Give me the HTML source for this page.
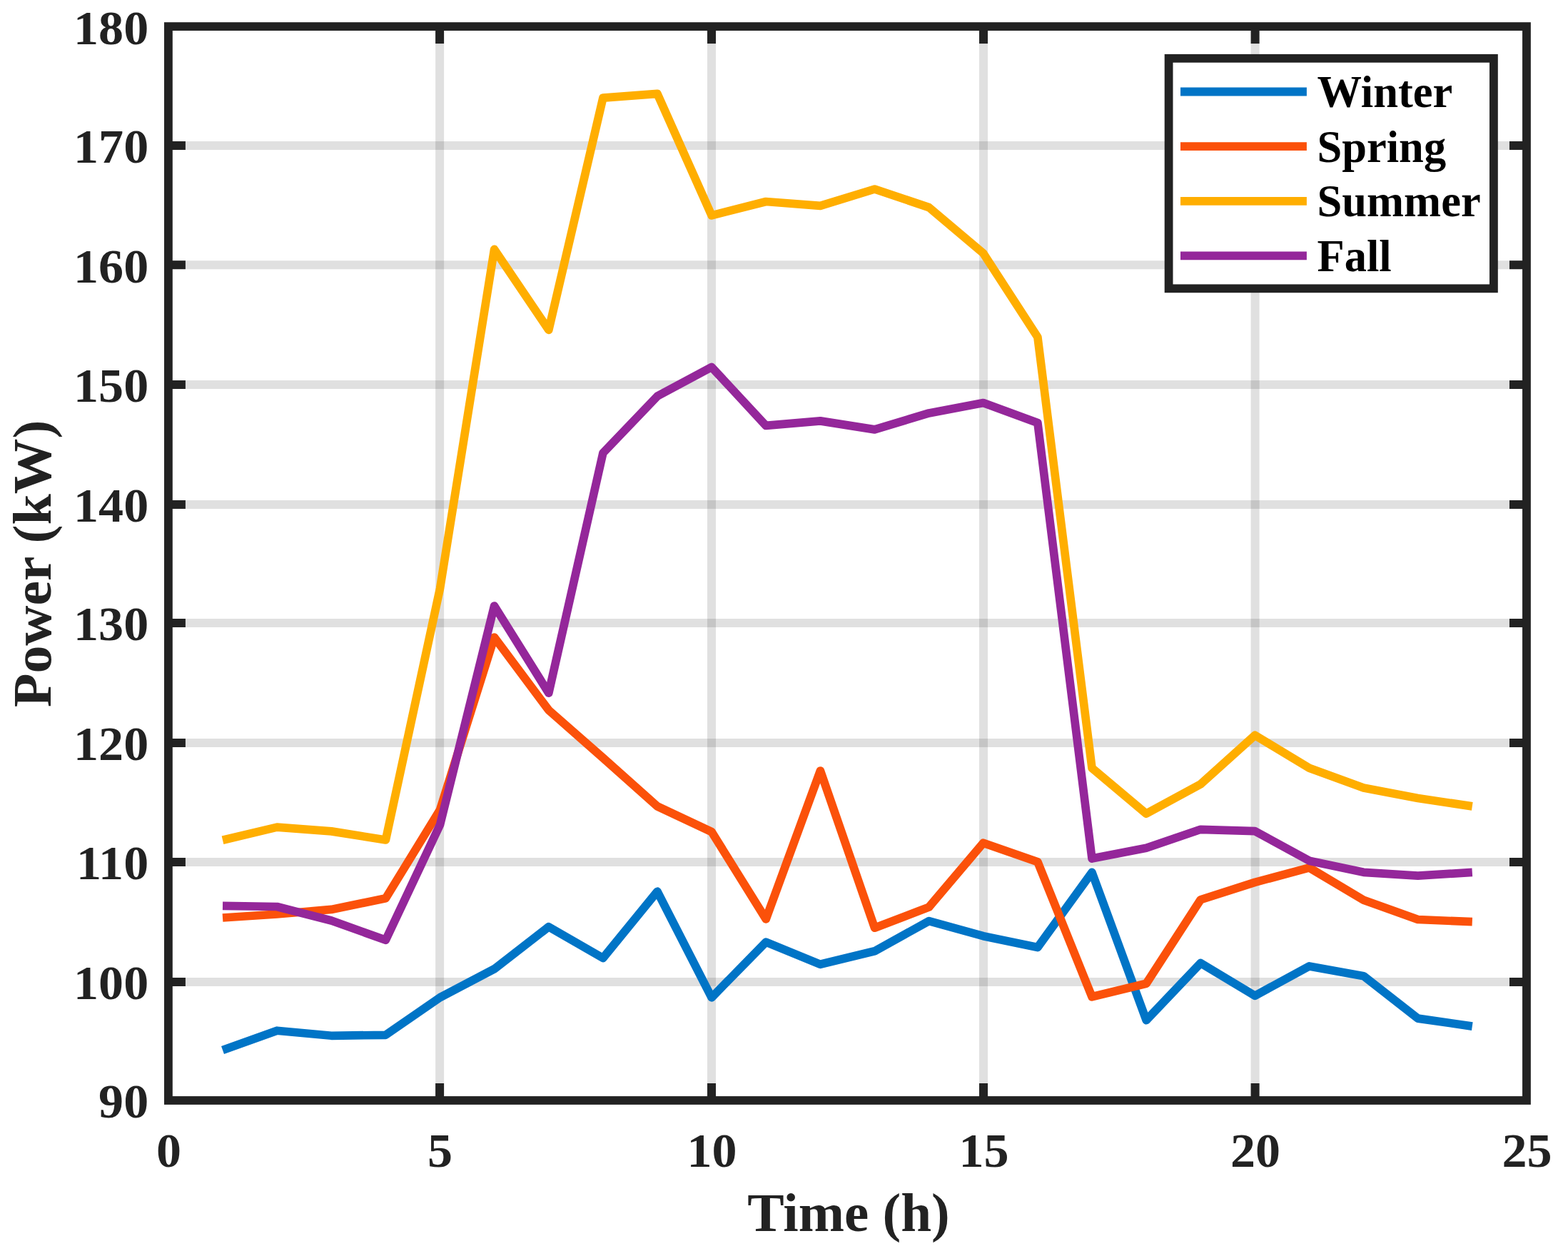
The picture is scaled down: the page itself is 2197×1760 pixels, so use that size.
<!DOCTYPE html>
<html lang="en"><head><meta charset="utf-8"><title>Power (kW) vs Time (h)</title>
<style>html,body{margin:0;padding:0;background:#fff;}body{width:2197px;height:1760px;overflow:hidden;}svg{display:block;}text{font-family:"Liberation Serif", "Times New Roman", serif;font-weight:bold;}</style>
</head><body>
<svg xmlns="http://www.w3.org/2000/svg" width="2197" height="1760" viewBox="0 0 2197 1760">
<rect x="0" y="0" width="2197" height="1760" fill="#ffffff"/>
<g stroke="#262626" stroke-opacity="0.145" stroke-width="12.00" fill="none">
<line x1="616.10" y1="37.10" x2="616.10" y2="1542.00"/>
<line x1="997.00" y1="37.10" x2="997.00" y2="1542.00"/>
<line x1="1378.00" y1="37.10" x2="1378.00" y2="1542.00"/>
<line x1="1758.60" y1="37.10" x2="1758.60" y2="1542.00"/>
<line x1="235.90" y1="1376.00" x2="2138.95" y2="1376.00"/>
<line x1="235.90" y1="1208.00" x2="2138.95" y2="1208.00"/>
<line x1="235.90" y1="1041.00" x2="2138.95" y2="1041.00"/>
<line x1="235.90" y1="873.00" x2="2138.95" y2="873.00"/>
<line x1="235.90" y1="707.00" x2="2138.95" y2="707.00"/>
<line x1="235.90" y1="539.00" x2="2138.95" y2="539.00"/>
<line x1="235.90" y1="371.20" x2="2138.95" y2="371.20"/>
<line x1="235.90" y1="204.00" x2="2138.95" y2="204.00"/>
</g>
<g fill="none" stroke-width="11.70" stroke-linejoin="round" stroke-linecap="butt">
<polyline stroke="#0074c6" points="312.0,1471.6 388.1,1444.2 464.3,1451.3 540.4,1450.3 616.5,1397.7 692.6,1357.8 768.8,1298.7 844.9,1342.5 921.0,1249.2 997.1,1397.8 1073.2,1320.1 1149.4,1351.3 1225.5,1332.8 1301.6,1290.6 1377.7,1311.7 1453.9,1327.5 1530.0,1222.4 1606.1,1429.6 1682.2,1349.6 1758.3,1395.3 1834.5,1353.9 1910.6,1367.7 1986.7,1427.1 2062.8,1438.1"/>
<polyline stroke="#fb510a" points="312.0,1286.0 388.1,1281.0 464.3,1274.4 540.4,1258.8 616.5,1134.7 692.6,893.0 768.8,995.1 844.9,1062.0 921.0,1129.9 997.1,1165.6 1073.2,1287.9 1149.4,1080.0 1225.5,1300.2 1301.6,1271.1 1377.7,1181.2 1453.9,1207.8 1530.0,1396.8 1606.1,1378.2 1682.2,1260.7 1758.3,1236.4 1834.5,1215.9 1910.6,1261.2 1986.7,1288.5 2062.8,1291.7"/>
<polyline stroke="#ffae00" points="312.0,1177.3 388.1,1159.1 464.3,1164.9 540.4,1177.0 616.5,824.7 692.6,349.4 768.8,462.3 844.9,137.2 921.0,131.3 997.1,301.8 1073.2,282.5 1149.4,288.3 1225.5,265.0 1301.6,290.6 1377.7,354.9 1453.9,472.4 1530.0,1076.3 1606.1,1140.2 1682.2,1098.9 1758.3,1030.3 1834.5,1076.3 1910.6,1104.0 1986.7,1118.5 2062.8,1129.9"/>
<polyline stroke="#94279a" points="312.0,1269.3 388.1,1270.5 464.3,1290.0 540.4,1317.3 616.5,1155.8 692.6,849.0 768.8,971.1 844.9,634.7 921.0,555.2 997.1,514.4 1073.2,596.4 1149.4,589.9 1225.5,601.9 1301.6,578.9 1377.7,564.5 1453.9,592.5 1530.0,1203.1 1606.1,1188.3 1682.2,1162.3 1758.3,1164.6 1834.5,1206.2 1910.6,1222.3 1986.7,1227.1 2062.8,1222.4"/>
</g>
<g stroke="#222222" stroke-width="12.00" fill="none">
<line x1="616.10" y1="1542.00" x2="616.10" y2="1518.00"/>
<line x1="616.10" y1="37.10" x2="616.10" y2="61.10"/>
<line x1="997.00" y1="1542.00" x2="997.00" y2="1518.00"/>
<line x1="997.00" y1="37.10" x2="997.00" y2="61.10"/>
<line x1="1378.00" y1="1542.00" x2="1378.00" y2="1518.00"/>
<line x1="1378.00" y1="37.10" x2="1378.00" y2="61.10"/>
<line x1="1758.60" y1="1542.00" x2="1758.60" y2="1518.00"/>
<line x1="1758.60" y1="37.10" x2="1758.60" y2="61.10"/>
<line x1="235.90" y1="1376.00" x2="259.90" y2="1376.00"/>
<line x1="2138.95" y1="1376.00" x2="2114.95" y2="1376.00"/>
<line x1="235.90" y1="1208.00" x2="259.90" y2="1208.00"/>
<line x1="2138.95" y1="1208.00" x2="2114.95" y2="1208.00"/>
<line x1="235.90" y1="1041.00" x2="259.90" y2="1041.00"/>
<line x1="2138.95" y1="1041.00" x2="2114.95" y2="1041.00"/>
<line x1="235.90" y1="873.00" x2="259.90" y2="873.00"/>
<line x1="2138.95" y1="873.00" x2="2114.95" y2="873.00"/>
<line x1="235.90" y1="707.00" x2="259.90" y2="707.00"/>
<line x1="2138.95" y1="707.00" x2="2114.95" y2="707.00"/>
<line x1="235.90" y1="539.00" x2="259.90" y2="539.00"/>
<line x1="2138.95" y1="539.00" x2="2114.95" y2="539.00"/>
<line x1="235.90" y1="371.20" x2="259.90" y2="371.20"/>
<line x1="2138.95" y1="371.20" x2="2114.95" y2="371.20"/>
<line x1="235.90" y1="204.00" x2="259.90" y2="204.00"/>
<line x1="2138.95" y1="204.00" x2="2114.95" y2="204.00"/>
</g>
<rect x="235.90" y="37.10" width="1903.05" height="1504.90" fill="none" stroke="#222222" stroke-width="11.80"/>
<g fill="#222222" font-size="69.40">
<text transform="translate(208.20 1566.40) scale(1.010 0.980)" text-anchor="end">90</text>
<text transform="translate(208.20 1400.40) scale(1.010 0.980)" text-anchor="end">100</text>
<text transform="translate(208.20 1232.40) scale(1.010 0.980)" text-anchor="end">110</text>
<text transform="translate(208.20 1065.40) scale(1.010 0.980)" text-anchor="end">120</text>
<text transform="translate(208.20 897.40) scale(1.010 0.980)" text-anchor="end">130</text>
<text transform="translate(208.20 731.40) scale(1.010 0.980)" text-anchor="end">140</text>
<text transform="translate(208.20 563.40) scale(1.010 0.980)" text-anchor="end">150</text>
<text transform="translate(208.20 395.60) scale(1.010 0.980)" text-anchor="end">160</text>
<text transform="translate(208.20 228.40) scale(1.010 0.980)" text-anchor="end">170</text>
<text transform="translate(208.20 61.50) scale(1.010 0.980)" text-anchor="end">180</text>
<text transform="translate(236.40 1634.60) scale(1.010 0.980)" text-anchor="middle">0</text>
<text transform="translate(616.60 1634.60) scale(1.010 0.980)" text-anchor="middle">5</text>
<text transform="translate(997.50 1634.60) scale(1.010 0.980)" text-anchor="middle">10</text>
<text transform="translate(1378.50 1634.60) scale(1.010 0.980)" text-anchor="middle">15</text>
<text transform="translate(1759.10 1634.60) scale(1.010 0.980)" text-anchor="middle">20</text>
<text transform="translate(2139.45 1634.60) scale(1.010 0.980)" text-anchor="middle">25</text>
</g>
<g fill="#222222" font-size="76.40">
<text transform="translate(1189.02 1724.80) scale(1.01 1)" text-anchor="middle">Time (h)</text>
<text transform="translate(71.20 789.85) rotate(-90) scale(1.018 1)" text-anchor="middle">Power (kW)</text>
</g>
<rect x="1637.60" y="81.80" width="455.30" height="322.50" fill="#ffffff" stroke="#222222" stroke-width="11.80"/>
<line x1="1654" y1="128.50" x2="1830.9" y2="128.50" stroke="#0074c6" stroke-width="11.80"/>
<text x="1845.5" y="150.00" font-size="62.50" fill="#000000">Winter</text>
<line x1="1654" y1="205.10" x2="1830.9" y2="205.10" stroke="#fb510a" stroke-width="11.80"/>
<text x="1845.5" y="226.60" font-size="62.50" fill="#000000">Spring</text>
<line x1="1654" y1="281.80" x2="1830.9" y2="281.80" stroke="#ffae00" stroke-width="11.80"/>
<text x="1845.5" y="303.30" font-size="62.50" fill="#000000">Summer</text>
<line x1="1654" y1="358.40" x2="1830.9" y2="358.40" stroke="#94279a" stroke-width="11.80"/>
<text x="1845.5" y="379.90" font-size="62.50" fill="#000000">Fall</text>
</svg>
</body></html>
